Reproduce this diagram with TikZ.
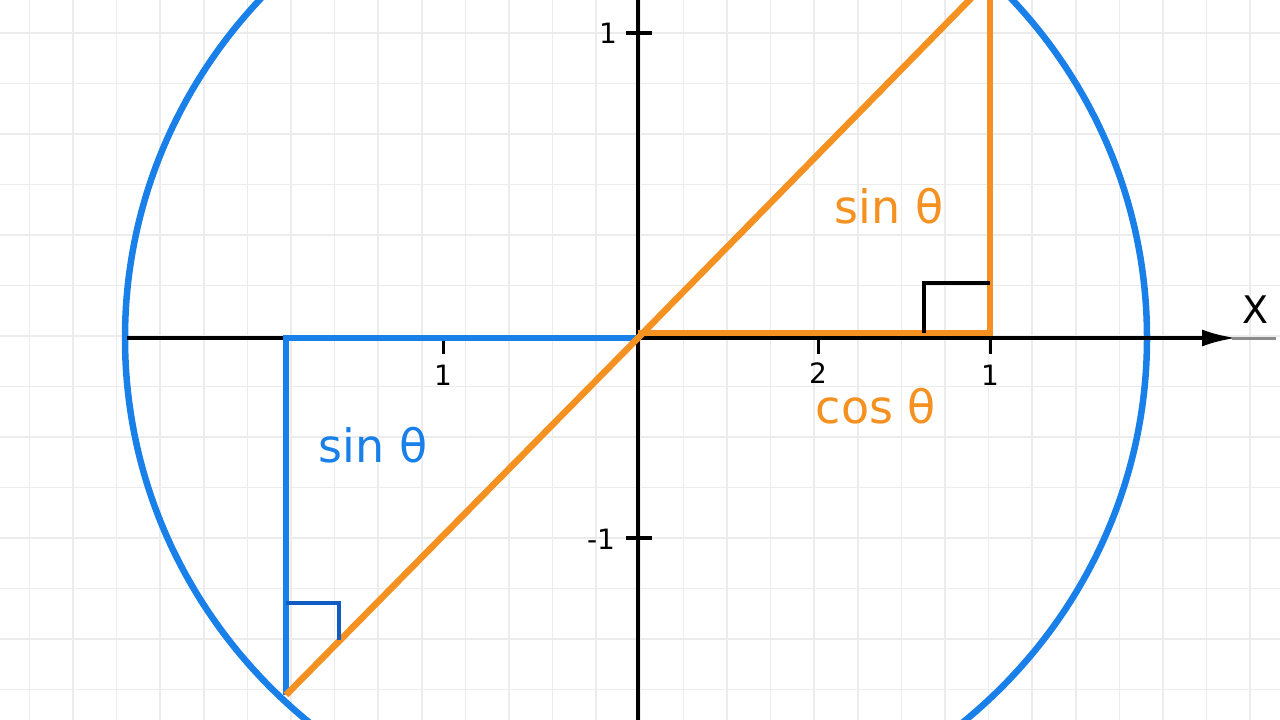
\documentclass[tikz,border=0pt]{standalone}
\usepackage{fontspec}
\setmainfont{DejaVu Sans}
\usepackage{tikz}
\usetikzlibrary{arrows.meta}
\definecolor{circblue}{RGB}{24,128,232}
\definecolor{markblue}{RGB}{16,92,196}
\definecolor{trigorange}{RGB}{245,145,32}
\definecolor{gridgray}{RGB}{236,236,236}
\tikzset{
	grid_ln/.style = {draw=gridgray, line width=1.5pt},
	axis_ln/.style = {draw=black, line width=4pt},
	tick_ln/.style = {draw=black, line width=3pt},
	blue_ln/.style = {draw=circblue, line width=6.5pt},
	org_ln/.style = {draw=trigorange, line width=6.5pt},
	mark_ln/.style = {line width=3.5pt},
	tick_lbl/.style = {anchor=base, inner sep=0pt,
		font=\fontsize{28}{28}\selectfont},
	trig_lbl/.style = {anchor=base, inner sep=0pt,
		font=\fontsize{46}{46}\selectfont}
}

\begin{document}
\begin{tikzpicture}[x=1pt,y=-1pt]
\useasboundingbox (0,0) rectangle (1280,720);
\fill[white] (0,0) rectangle (1280,720);
% grid
\foreach \k in {0,...,28}
	\draw[grid_ln] (29.4+43.6*\k,0) -- (29.4+43.6*\k,720);
\foreach \k in {0,...,13}
	\draw[grid_ln] (0,33+50.5*\k) -- (1280,33+50.5*\k);

\coordinate (O) at (638,338);
\coordinate (Oup) at (638,333);
\coordinate (L) at (286,338);
\coordinate (P) at (286,695);
\coordinate (Q) at (990,-21);
\coordinate (F) at (990,333);

% circle
\draw[blue_ln] (636,338) ellipse [x radius=511, y radius=500];

% axes
\draw[axis_ln, -{Latex[length=34pt,width=17pt]}] (127,338) -- (1236,338);
\draw[tick_ln, black!45] (1232,338) -- (1276,338);
\draw[axis_ln] (638,0) -- (638,720);
\foreach \y in {33,538}
	\draw[axis_ln] (626,\y) -- (652,\y);
\foreach \x in {443,818,990}
	\draw[tick_ln] (\x,336) -- (\x,354);

% triangles
\draw[blue_ln] (O) -- (L) -- (P);
\draw[org_ln] (Oup) -- (F) -- (Q);
\draw[org_ln] (P) -- (O) -- (Q);
\draw[mark_ln, black] (924,333) -- (924,283) -- (990,283);
\draw[mark_ln, markblue] (286,603) -- (339,603) -- (339,640);

% labels
\node[tick_lbl] (y1) at (608,43) {1};
\node[tick_lbl] (ym1) at (601,549) {-1};
\node[tick_lbl] (x1) at (443,385) {1};
\node[tick_lbl] (x2) at (818,383) {2};
\node[tick_lbl] (x1r) at (990,385) {1};
\node[anchor=base, inner sep=0pt, font=\fontsize{38}{38}\selectfont]
	(xlbl) at (1256,323) {X};
\node[trig_lbl, trigorange] (sinr) at (889,223) {sin θ};
\node[trig_lbl, trigorange] (cosr) at (876,423) {cos θ};
\node[trig_lbl, circblue] (sinl) at (373,462) {sin θ};
\end{tikzpicture}
\end{document}
